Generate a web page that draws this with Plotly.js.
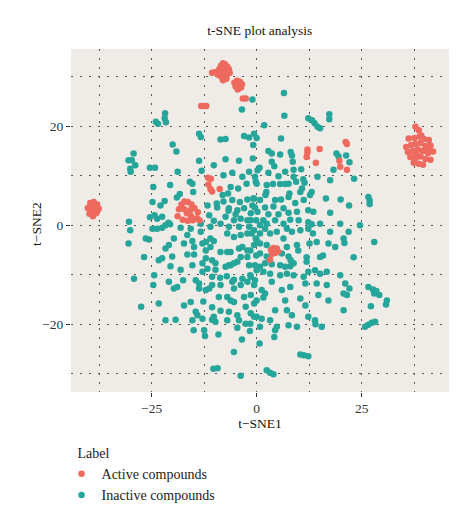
<!DOCTYPE html>
<html>
<head>
<meta charset="utf-8">
<script src="https://cdn.plot.ly/plotly-3.0.1.min.js"></script>
<style>html,body{margin:0;padding:0;background:#fff;}#chart{width:474px;height:529px;}</style>
</head>
<body>
<div id="chart"></div>
<script>
var seriesNames = ["Active compounds", "Inactive compounds"];
var legendTitle = "Label";
var chartTitle = "t-SNE plot analysis";
var xTitle = "t\u2212SNE1";
var yTitle = "t\u2212SNE2";
var xTicks = [-25, 0, 25];
var yTicks = [-20, 0, 20];

var activePoints = [
  [-10.6,30.8],[-10.0,30.9],[-9.4,31.0],[-8.9,31.5],[-8.5,32.2],[-8.0,32.7],[-7.5,32.5],[-7.0,32.0],[-6.6,31.5],[-6.4,30.8],
  [-7.0,30.5],[-7.6,30.2],[-8.2,29.8],[-8.0,30.9],[-8.6,31.0],[-7.5,31.4],[-7.2,29.6],[-8.0,29.3],[-9.0,30.3],[-6.8,31.1],
  [-5.3,28.8],[-4.7,29.2],[-4.0,29.0],[-3.5,28.5],[-3.7,27.8],[-4.5,27.4],[-5.0,28.0],[-4.2,28.3],
  [-3.3,25.6],[-2.6,25.6],
  [-13.2,24.1],[-12.6,24.1],[-12.0,24.1],
  [-40.2,3.5],[-39.6,4.5],[-38.8,4.7],[-38.0,4.2],[-37.6,3.3],[-38.2,2.4],[-39.0,1.8],[-39.8,2.3],[-39.0,3.2],[-38.6,3.8],
  [-18.8,1.8],[-18.5,3.2],[-17.9,4.2],[-17.2,4.8],[-16.4,4.7],[-15.5,4.2],[-14.8,3.5],[-14.0,2.6],[-14.2,1.4],[-15.2,1.0],
  [-16.4,0.9],[-17.6,1.1],[-16.6,2.4],[-15.8,3.0],[-17.2,3.2],[-13.6,1.0],[-15.6,1.8],
  [-11.6,9.6],[-10.9,9.4],[-11.5,8.2],[-11.0,7.3],[-10.6,6.8],[-8.8,7.3],
  [3.4,-5.0],[4.0,-4.6],[4.8,-4.7],[5.1,-5.3],[4.5,-5.6],[3.7,-5.8],[3.2,-7.0],
  [12.1,15.3],[12.1,14.7],[11.9,13.8],[15.0,15.4],[14.1,12.6],[21.2,16.8],[21.5,16.4],[19.7,13.0],[19.9,11.8],[21.5,11.2],
  [37.8,19.9],[38.6,19.2],[36.2,17.5],[37.6,17.6],[38.8,17.9],[39.8,17.4],[41.0,17.2],[35.6,15.8],[36.8,16.2],[37.8,16.4],
  [39.0,16.6],[40.2,16.0],[41.4,16.1],[36.0,14.8],[37.2,15.0],[38.4,15.3],[39.6,15.0],[40.8,14.6],[42.0,14.9],[36.6,13.8],
  [37.8,13.6],[39.0,13.9],[40.2,13.4],[41.4,13.2],[37.4,12.6],[38.6,12.4],[39.6,12.2],[38.0,14.4],[39.2,18.1],[40.8,15.4]
];

var inactivePoints = [
  [-3.5,23.4],[-1.0,25.4],[6.5,26.7],[6.6,22.1],
  [12.3,21.6],[13.2,21.2],[13.8,20.6],[14.5,19.9],[15.1,19.6],[17.3,22.4],[17.3,21.4],
  [-24.0,20.9],[-23.5,20.5],[-21.8,22.6],[-21.9,21.6],[-21.6,20.8],
  [1.8,20.2],[-13.7,18.5],[-13.3,17.8],[-20.0,16.3],[-19.1,14.9],[-8.6,17.3],[-7.4,17.4],
  [-3.0,18.0],[-1.8,17.7],[-0.6,18.5],[0.0,17.6],[-0.8,16.2],[5.8,17.5],
  [-29.3,14.5],[-29.7,13.1],[-30.5,13.1],[-28.9,12.1],[-30.1,11.4],[-30.0,10.8],
  [-25.4,11.6],[-24.2,11.6],[-18.8,10.8],
  [-13.7,13.0],[-13.1,11.0],[-10.2,12.1],[-7.4,13.3],[-4.2,13.0],[-1.8,10.8],[0.2,11.1],[-5.8,10.6],[-7.9,10.1],[-3.4,9.8],
  [2.8,15.0],[3.6,14.5],[5.6,14.3],[8.1,14.8],[8.4,14.1],[8.6,12.8],[-0.9,13.5],[0.7,11.6],[3.6,12.8],[4.2,11.9],
  [6.8,10.8],[8.8,11.2],[10.6,11.3],
  [19.0,14.5],[19.5,13.9],[21.3,14.1],[22.1,12.7],[18.3,11.2],
  [2.8,10.6],[-0.4,9.8],[0.0,8.4],[5.2,9.9],[8.8,9.8],[9.4,8.8],[11.1,9.3],[11.4,8.6],[14.5,9.8],[17.5,9.1],[23.2,9.4],
  [2.4,8.1],[3.9,8.3],[5.6,8.3],[6.8,8.3],[7.6,8.4],
  [2.3,6.7],[2.1,6.1],[7.8,6.4],[7.6,5.7],[10.8,7.4],[10.4,6.7],[13.1,6.7],[12.7,6.1],
  [-0.8,5.4],[0.8,5.1],[4.4,5.1],[5.8,5.2],[9.2,4.5],[11.2,5.1],[16.5,5.4],[20.0,5.2],[22.0,4.0],[26.6,5.7],[26.9,5.0],[26.9,4.3],
  [-0.4,3.6],[2.0,3.6],[4.0,3.8],[6.4,3.4],[2.8,2.2],[5.2,2.2],[7.6,2.5],[9.6,2.7],[12.3,3.0],[13.5,2.7],[17.5,2.5],
  [-0.1,1.0],[1.6,1.0],[0.8,0.0],[2.4,0.3],[4.4,1.0],[6.4,0.3],[8.0,1.1],[10.0,1.0],[12.3,0.6],[13.1,0.2],[15.1,0.3],[19.9,0.3],[24.6,0.0],
  [-24.6,7.7],[-20.6,8.1],[-15.9,8.8],[-15.3,8.4],[-6.2,7.7],[-4.4,7.4],[-2.4,8.4],[-0.2,8.8],[-18.3,6.3],[-19.0,5.6],
  [-15.1,6.7],[-8.1,6.1],[-6.8,6.4],[-0.6,5.4],[-24.8,4.7],[-21.9,4.9],[-22.9,4.0],[-11.7,4.0],[-9.5,4.4],[-7.9,4.8],
  [-4.0,4.7],[-2.2,5.2],[-9.4,3.6],[-6.7,2.9],[-5.0,2.2],[-3.8,1.3],[-25.4,1.6],[-24.3,2.0],[-23.7,1.3],[-22.5,1.7],
  [-11.3,2.0],[-10.2,0.9],[-13.3,0.3],[-1.4,1.0],
  [-5.8,5.1],[-3.0,3.4],[-1.0,4.0],[-6.6,3.4],[-4.6,3.0],[-1.4,2.4],[0.2,2.7],[-7.4,1.7],[-5.4,1.0],[-2.2,1.0],[-6.6,-0.3],[-4.2,-0.3],
  [-30.4,0.7],[-30.1,-1.0],[-21.0,0.5],[-20.6,0.2],
  [17.5,-1.3],[21.9,-1.3],[28.0,-3.4],
  [-1.2,-1.7],[0.8,-1.7],[2.0,-0.7],[3.2,-1.7],[4.8,-1.3],[7.2,-0.7],[8.4,-1.3],[10.4,-1.0],[12.3,-0.7],[13.4,-1.7],
  [0.0,-3.0],[0.8,-3.7],[2.4,-4.0],[6.4,-2.7],[7.2,-4.4],[9.6,-4.0],[9.9,-5.1],[12.6,-3.7],[14.3,-3.4],[17.1,-3.7],[20.9,-3.6],[20.7,-2.7],
  [-1.5,-5.1],[-0.1,-6.1],[0.8,-5.7],[2.4,-6.3],[6.0,-5.7],[7.6,-6.3],[8.1,-7.1],[11.9,-6.5],[15.1,-6.4],[15.8,-6.1],[18.7,-4.4],[23.1,-6.5],
  [-0.4,-8.1],[0.8,-8.4],[2.0,-7.7],[3.6,-7.9],[5.6,-8.1],[6.8,-8.4],[8.0,-8.3],[8.8,-7.7],[11.9,-7.4],[12.3,-9.4],
  [13.9,-9.1],[15.1,-9.8],[16.7,-9.4],[19.9,-10.1],[21.1,-11.8],[22.1,-12.8],
  [-1.5,-10.1],[1.6,-9.4],[3.2,-9.8],[5.6,-10.1],[7.2,-9.8],[8.8,-10.1],[11.2,-10.4],
  [-0.4,-11.1],[1.2,-13.1],[2.0,-13.8],[3.6,-11.4],[6.0,-13.1],[6.8,-15.2],[8.0,-12.5],[10.4,-14.8],[11.6,-11.8],[14.3,-11.8],
  [14.7,-14.1],[16.7,-12.1],[20.7,-13.8],[21.5,-14.1],[20.7,-17.2],[17.1,-15.2],
  [0.0,-15.2],[1.6,-14.6],[4.4,-17.2],[7.2,-17.2],[8.4,-18.2],[11.6,-16.2],[12.3,-18.5],[13.9,-19.2],[15.5,-20.5],
  [0.0,-18.5],[1.2,-18.9],[3.2,-19.2],[-1.5,-19.9],[0.8,-20.5],[4.8,-20.5],[7.6,-20.2],[9.6,-20.5],[14.0,-20.0],
  [26.6,-12.5],[27.7,-13.0],[28.5,-13.3],[29.2,-14.1],[31.0,-15.2],[30.8,-16.0],[27.2,-16.4],[28.0,-13.8],
  [25.8,-20.5],[26.6,-20.1],[27.4,-19.7],[28.2,-19.5],
  [10.4,-26.1],[11.2,-26.3],[12.3,-26.5],[2.4,-29.3],[3.2,-29.8],[4.0,-30.1],
  [4.4,-21.2],[4.2,-22.6],[0.7,-23.9],
  [-24.8,-0.7],[-23.7,-0.7],[-22.5,-0.5],[-21.7,0.0],[-18.1,-0.5],[-15.7,-0.7],[-13.3,-1.3],[-11.0,-0.3],[-8.6,0.3],[-1.8,-0.3],[-0.6,-1.0],
  [-26.4,-2.7],[-25.6,-2.9],[-19.7,-2.7],[-16.5,-2.0],[-15.3,-3.2],[-12.1,-3.4],[-11.0,-2.7],[-10.2,-3.2],[-7.0,-1.7],[-5.4,-2.4],[-3.8,-2.0],[-2.2,-1.7],[-0.2,-2.7],
  [-21.7,-4.7],[-20.9,-4.0],[-17.3,-3.7],[-14.9,-4.4],[-12.9,-3.7],[-12.1,-5.1],[-11.0,-4.4],[-8.6,-5.4],[-7.0,-5.4],[-6.2,-5.4],[-4.2,-4.7],[-3.4,-4.4],[-2.2,-5.1],[-0.6,-4.0],
  [-26.8,-6.4],[-23.3,-7.1],[-22.5,-6.7],[-20.1,-6.3],[-16.5,-5.9],[-14.9,-5.9],[-12.9,-7.7],[-12.1,-6.7],[-10.6,-7.1],[-9.8,-7.7],[-6.2,-8.1],[-5.4,-7.7],[-3.8,-6.4],[-2.2,-6.4],
  [-20.5,-8.3],[-15.3,-8.1],[-11.7,-8.8],[-9.8,-9.0],[-7.4,-8.4],[-6.6,-8.1],[-4.6,-7.4],[-1.8,-8.1],
  [-24.4,-10.1],[-18.1,-9.0],[-12.9,-9.4],[-10.6,-10.4],[-8.7,-10.6],[-7.1,-10.3],[-5.4,-11.0],[-3.4,-10.8],[-1.4,-10.4],[0.0,-9.1],
  [-20.9,-11.4],[-17.5,-11.1],[-14.5,-11.1],[-13.7,-11.8],[-11.3,-12.8],[-10.6,-12.1],[-8.6,-12.1],[-5.8,-11.4],[-5.4,-12.8],[-3.8,-12.1],[-2.2,-11.4],[-0.6,-12.1],
  [-24.6,-12.1],[-19.7,-12.8],[-18.9,-12.5],[-13.7,-12.8],[-12.1,-13.1],[-9.0,-14.5],[-7.0,-14.5],[-6.2,-15.2],[-5.4,-15.5],[-3.0,-14.5],[-1.4,-14.1],
  [-23.3,-15.8],[-17.3,-16.2],[-15.7,-15.5],[-12.7,-15.4],[-10.6,-16.6],[-8.6,-17.3],[-6.6,-17.5],[-4.6,-18.2],[-2.6,-16.5],[-0.6,-15.8],
  [-14.5,-17.5],[-14.1,-18.2],[-10.2,-18.5],[-10.6,-19.1],[-1.4,-17.8],[-4.2,-19.2],[-0.6,-18.5],
  [-21.7,-19.2],[-19.3,-19.1],[-15.3,-19.2],[-12.9,-18.9],[-9.8,-19.5],[-7.0,-19.2],[-2.6,-19.9],
  [-30.5,-3.7],[-29.2,-10.8],[-27.5,-16.5],[-15.0,-21.2],[-12.5,-21.2],[-12.3,-22.4],[-9.1,-22.1],[-5.4,-25.6],[-3.5,-23.1],
  [-10.3,-29.0],[-9.3,-28.9],[-3.8,-30.4],[-4.6,-20.7],[-1.6,-21.4]
];

var serif = "Liberation Serif, Times New Roman, serif";
var redColor = "#EE6A5F";
var tealColor = "#26A69A";

var traces = [
  {
    type: "scatter", mode: "markers", name: seriesNames[1], legendrank: 2,
    x: inactivePoints.map(function(p){return p[0];}),
    y: inactivePoints.map(function(p){return p[1];}),
    marker: {color: tealColor, size: 6.5, line: {width: 0}}, hoverinfo: "x+y"
  },
  {
    type: "scatter", mode: "markers", name: seriesNames[0], legendrank: 1,
    x: activePoints.map(function(p){return p[0];}),
    y: activePoints.map(function(p){return p[1];}),
    marker: {color: redColor, size: 6.5, line: {width: 0}}, hoverinfo: "x+y"
  }
];

var gridDash = "2px,7px";
var layout = {
  width: 474, height: 529,
  margin: {l: 71, r: 25, t: 49, b: 137, pad: 0},
  paper_bgcolor: "#ffffff",
  plot_bgcolor: "#EFEBE7",
  font: {family: serif, size: 13, color: "#222"},
  title: {text: chartTitle, x: 0.548, xanchor: "center", y: 0.942, yanchor: "middle", font: {family: serif, size: 13.5, color: "#111"}},
  xaxis: {
    range: [-44.2, 45.8], tickvals: xTicks, ticks: "outside", ticklen: 4, tickcolor: "#333", tickwidth: 1,
    showgrid: true, gridcolor: "#555", gridwidth: 1, griddash: gridDash,
    minor: {dtick: 12.5, tick0: 0, showgrid: true, gridcolor: "#555", gridwidth: 1, griddash: gridDash, ticks: ""},
    zeroline: false, showline: false,
    tickfont: {family: serif, size: 13.5, color: "#333"},
    title: {text: xTitle, font: {family: serif, size: 13.5, color: "#111"}, standoff: 3}
  },
  yaxis: {
    range: [-33.7, 35.6], tickvals: yTicks, ticks: "outside", ticklen: 4, tickcolor: "#333", tickwidth: 1,
    showgrid: true, gridcolor: "#555", gridwidth: 1, griddash: gridDash,
    minor: {dtick: 10, tick0: 0, showgrid: true, gridcolor: "#555", gridwidth: 1, griddash: gridDash, ticks: ""},
    zeroline: false, showline: false,
    tickfont: {family: serif, size: 13.5, color: "#333"}
  },
  annotations: [{
    text: yTitle, xref: "paper", yref: "paper", x: -0.09, y: 0.49,
    xanchor: "center", yanchor: "middle", textangle: -90, showarrow: false,
    font: {family: serif, size: 13.5, color: "#111"}
  }],
  showlegend: true,
  legend: {
    x: -0.025, xanchor: "left", y: -0.14, yanchor: "top", orientation: "v",
    title: {text: "\u2002\u2002" + legendTitle, font: {family: serif, size: 14, color: "#222"}},
    font: {family: serif, size: 14, color: "#222"},
    bgcolor: "rgba(0,0,0,0)", itemsizing: "trace"
  }
};

Plotly.newPlot("chart", traces, layout, {displayModeBar: false, staticPlot: true});
</script>
</body>
</html>
